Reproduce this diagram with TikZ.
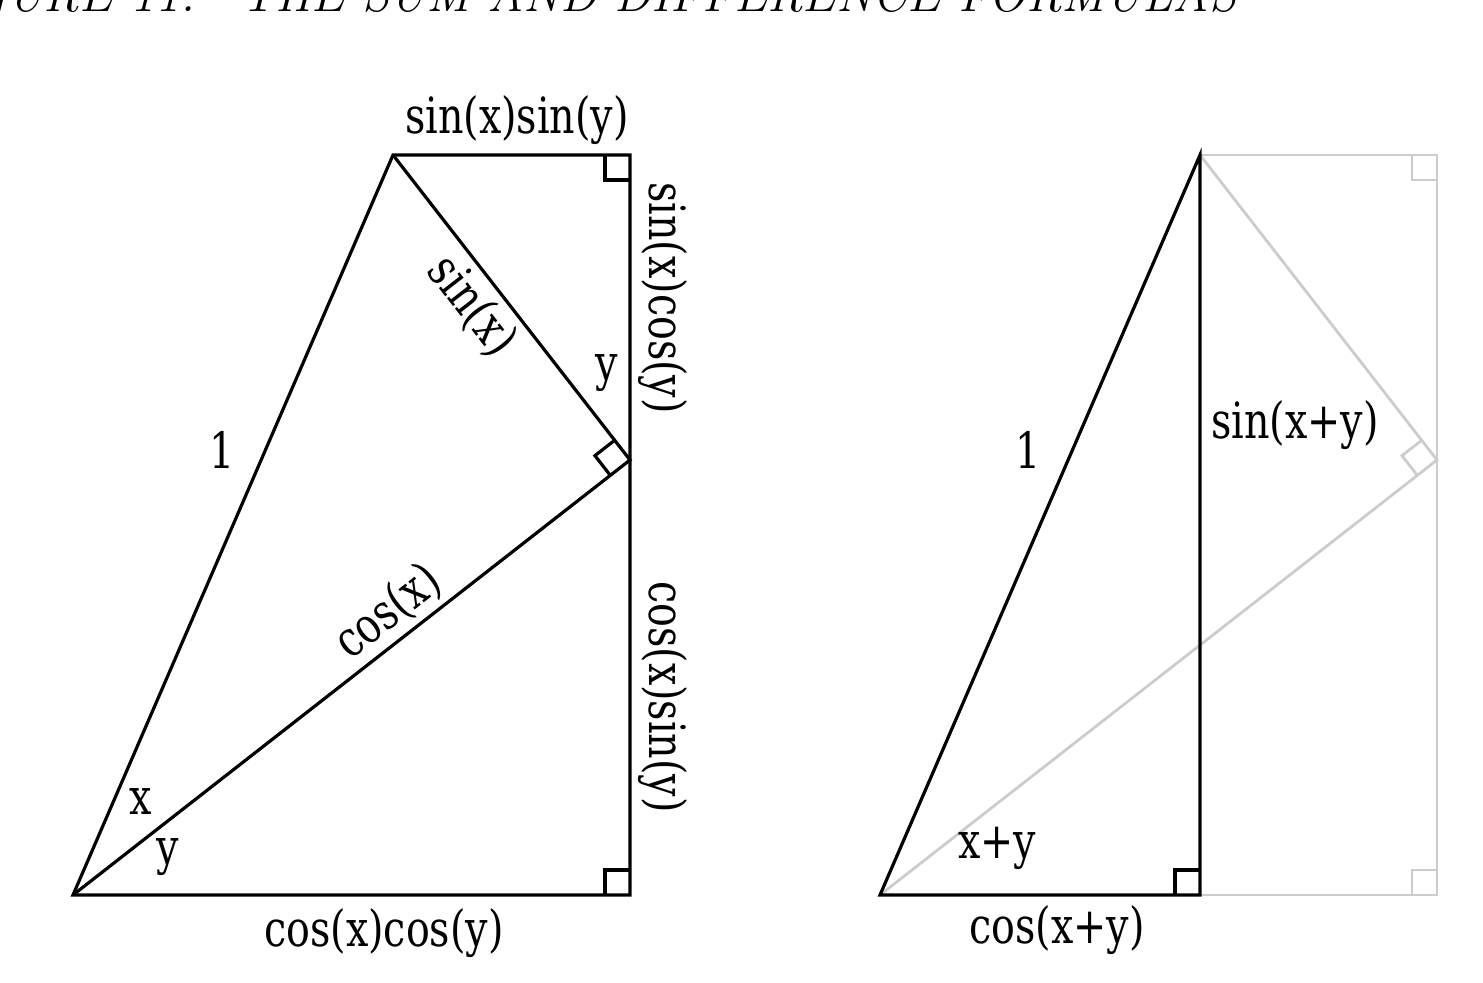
\documentclass[tikz,border=0pt]{standalone}
\usepackage{fontspec}
\newfontfamily\lblfont[FakeStretch = 0.88]{DejaVu Serif Condensed}
\usetikzlibrary{calc}
\begin{document}
\begin{tikzpicture}[x = 0.5pt, y = -0.5pt,
		lbl/.style = {font = \lblfont\fontsize{25}{30}\selectfont, inner sep = 0pt},
		edge/.style = {line width = 1.6pt, line join = miter},
		faint/.style = {line width = 1.4pt, draw = black!20}]
	\useasboundingbox (0, 0) rectangle (1483, 983);
	\node[font = \itshape\fontsize{25}{30}\selectfont, anchor = base east, inner sep = 0pt] (title) at (1237, 12) {FIGURE 11.\hspace{0.9em}THE SUM AND DIFFERENCE FORMULAS};
	% left figure
	\coordinate (A) at (73, 895);
	\coordinate (B) at (630, 895);
	\coordinate (C) at (630, 155);
	\coordinate (T) at (393, 155);
	\coordinate (P) at (630, 460);
	% right figure
	\coordinate (A2) at (880, 895);
	\coordinate (B2) at (1200, 895);
	\coordinate (T2) at (1200, 155);
	\coordinate (C2) at (1437, 155);
	\coordinate (P2) at (1437, 460);
	\coordinate (D2) at (1437, 895);
	\draw[faint] (T2) -- (C2) -- (D2) -- (B2);
	\draw[faint] (A2) -- (P2) -- (T2);
	\draw[edge] (A) -- (T) -- (C) -- (B) -- cycle;
	\draw[edge] (A) -- (P) -- (T);
	\draw[edge] (A2) -- (T2) -- (B2) -- cycle;
	% right angles
	\foreach \c/\a/\b in {C/T/B, B/C/A, P/T/A, B2/T2/A2} {
		\coordinate (u) at ($(\c)!12.5pt!(\a)$);
		\coordinate (v) at ($(\c)!12.5pt!(\b)$);
		\draw[edge] (u) -- ($(u) + (v) - (\c)$) -- (v);
	}
	\foreach \c/\a/\b in {C2/T2/D2, P2/T2/A2, D2/C2/B2} {
		\coordinate (u) at ($(\c)!12.5pt!(\a)$);
		\coordinate (v) at ($(\c)!12.5pt!(\b)$);
		\draw[faint] (u) -- ($(u) + (v) - (\c)$) -- (v);
	}
	% labels
	\node[lbl] (top) at (517, 120) {sin(x)sin(y)};
	\node[lbl] (one) at (222, 450) {1};
	\node[lbl, rotate = -52.2] (sinx) at (472, 306) {sin(x)};
	\node[lbl] (angy) at (607, 373) {y};
	\node[lbl, rotate = 38] (cosx) at (388, 612) {cos(x)};
	\node[lbl] (angx) at (141, 802) {x};
	\node[lbl] (angyy) at (168, 857) {y};
	\node[lbl] (bottom) at (384, 933) {cos(x)cos(y)};
	\node[lbl, rotate = -90] (upper) at (663, 298) {sin(x)cos(y)};
	\node[lbl, rotate = -90] (lower) at (663, 697) {cos(x)sin(y)};
	\node[lbl] (one2) at (1028, 450) {1};
	\node[lbl] (sinxy) at (1295, 425) {sin(x+y)};
	\node[lbl] (angxy) at (997, 848) {x+y};
	\node[lbl] (cosxy) at (1057, 930) {cos(x+y)};
\end{tikzpicture}
\end{document}
